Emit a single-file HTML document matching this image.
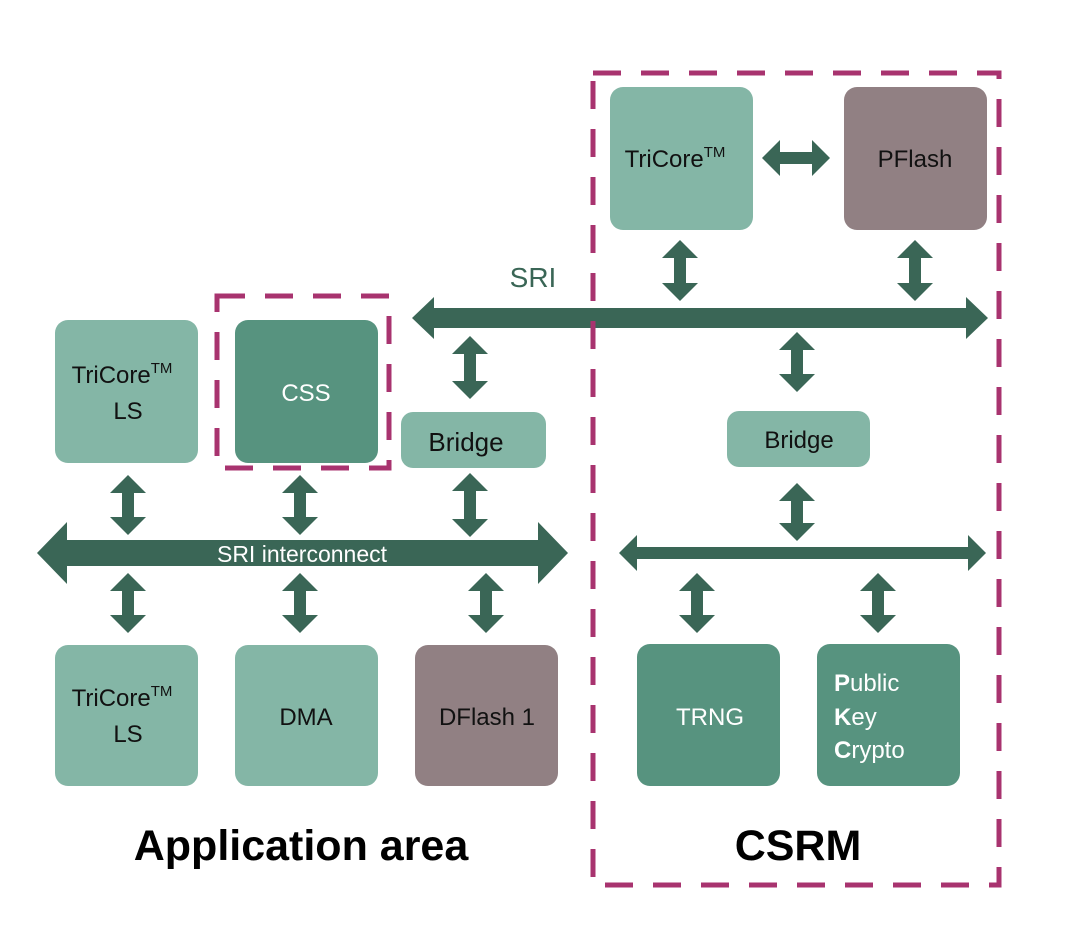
<!DOCTYPE html>
<html><head><meta charset="utf-8"><style>
html,body{margin:0;padding:0;background:#fff;width:1080px;height:928px;overflow:hidden}
text{font-family:"Liberation Sans",sans-serif}
</style></head><body>
<svg width="1080" height="928" viewBox="0 0 1080 928" xmlns="http://www.w3.org/2000/svg">
<g fill="#84b6a6">
<rect x="610" y="87" width="143" height="143" rx="13"/>
<rect x="55" y="320" width="143" height="143" rx="13"/>
<rect x="401" y="412" width="145" height="56" rx="12"/>
<rect x="727" y="411" width="143" height="56" rx="12"/>
<rect x="55" y="645" width="143" height="141" rx="13"/>
<rect x="235" y="645" width="143" height="141" rx="13"/>
</g>
<g fill="#918083">
<rect x="844" y="87" width="143" height="143" rx="13"/>
<rect x="415" y="645" width="143" height="141" rx="13"/>
</g>
<g fill="#57937f">
<rect x="235" y="320" width="143" height="143" rx="13"/>
<rect x="637" y="644" width="143" height="142" rx="13"/>
<rect x="817" y="644" width="143" height="142" rx="13"/>
</g>
<g fill="#3a6656">
<polygon points="680,240 698,258 686,258 686,283 698,283 680,301 662,283 674,283 674,258 662,258"/>
<polygon points="915,240 933,258 921,258 921,283 933,283 915,301 897,283 909,283 909,258 897,258"/>
<polygon points="797,332 815,350 803,350 803,374 815,374 797,392 779,374 791,374 791,350 779,350"/>
<polygon points="797,483 815,501 803,501 803,523 815,523 797,541 779,523 791,523 791,501 779,501"/>
<polygon points="128,475 146,493 134,493 134,517 146,517 128,535 110,517 122,517 122,493 110,493"/>
<polygon points="300,475 318,493 306,493 306,517 318,517 300,535 282,517 294,517 294,493 282,493"/>
<polygon points="470,336 488,354 476,354 476,381 488,381 470,399 452,381 464,381 464,354 452,354"/>
<polygon points="470,473 488,491 476,491 476,519 488,519 470,537 452,519 464,519 464,491 452,491"/>
<polygon points="128,573 146,591 134,591 134,615 146,615 128,633 110,615 122,615 122,591 110,591"/>
<polygon points="300,573 318,591 306,591 306,615 318,615 300,633 282,615 294,615 294,591 282,591"/>
<polygon points="486,573 504,591 492,591 492,615 504,615 486,633 468,615 480,615 480,591 468,591"/>
<polygon points="697,573 715,591 703,591 703,615 715,615 697,633 679,615 691,615 691,591 679,591"/>
<polygon points="878,573 896,591 884,591 884,615 896,615 878,633 860,615 872,615 872,591 860,591"/>
<polygon points="762,158 780,140 780,152 812,152 812,140 830,158 812,176 812,164 780,164 780,176"/>
<polygon points="412,318 434,297 434,308 966,308 966,297 988,318 966,339 966,328 434,328 434,339"/>
<polygon points="37,553 67,522 67,540 538,540 538,522 568,553 538,584 538,566 67,566 67,584"/>
<polygon points="619,553 637,535 637,547 968,547 968,535 986,553 968,571 968,559 637,559 637,571"/>
</g>
<g fill="none" stroke="#a8336f" stroke-width="5" stroke-dasharray="28,20">
<rect x="593" y="73" width="406" height="812"/>
<rect x="217" y="296" width="172" height="172"/>
</g>
<g font-size="24" fill="#111" text-anchor="middle">
<text x="675" y="167">TriCore<tspan font-size="15" dy="-10">TM</tspan></text>
<text x="915" y="167">PFlash</text>
<text x="122" y="383">TriCore<tspan font-size="15" dy="-10">TM</tspan></text>
<text x="128" y="419">LS</text>
<text x="306" y="401" fill="#fff">CSS</text>
<text x="466" y="451" font-size="26">Bridge</text>
<text x="799" y="448">Bridge</text>
<text x="122" y="706">TriCore<tspan font-size="15" dy="-10">TM</tspan></text>
<text x="128" y="742">LS</text>
<text x="306" y="725">DMA</text>
<text x="487" y="725">DFlash 1</text>
<text x="710" y="725" fill="#fff">TRNG</text>
<text x="302" y="562" fill="#fff" font-size="23">SRI interconnect</text>
</g>
<g font-size="24" fill="#fff">
<text x="834" y="691"><tspan font-weight="bold">P</tspan>ublic</text>
<text x="834" y="725"><tspan font-weight="bold">K</tspan>ey</text>
<text x="834" y="758"><tspan font-weight="bold">C</tspan>rypto</text>
</g>
<text x="533" y="287" font-size="28" fill="#3a6656" text-anchor="middle">SRI</text>
<text x="301" y="860" font-size="43" font-weight="bold" fill="#000" text-anchor="middle">Application area</text>
<text x="798" y="860" font-size="43" font-weight="bold" fill="#000" text-anchor="middle">CSRM</text>
</svg>
</body></html>
